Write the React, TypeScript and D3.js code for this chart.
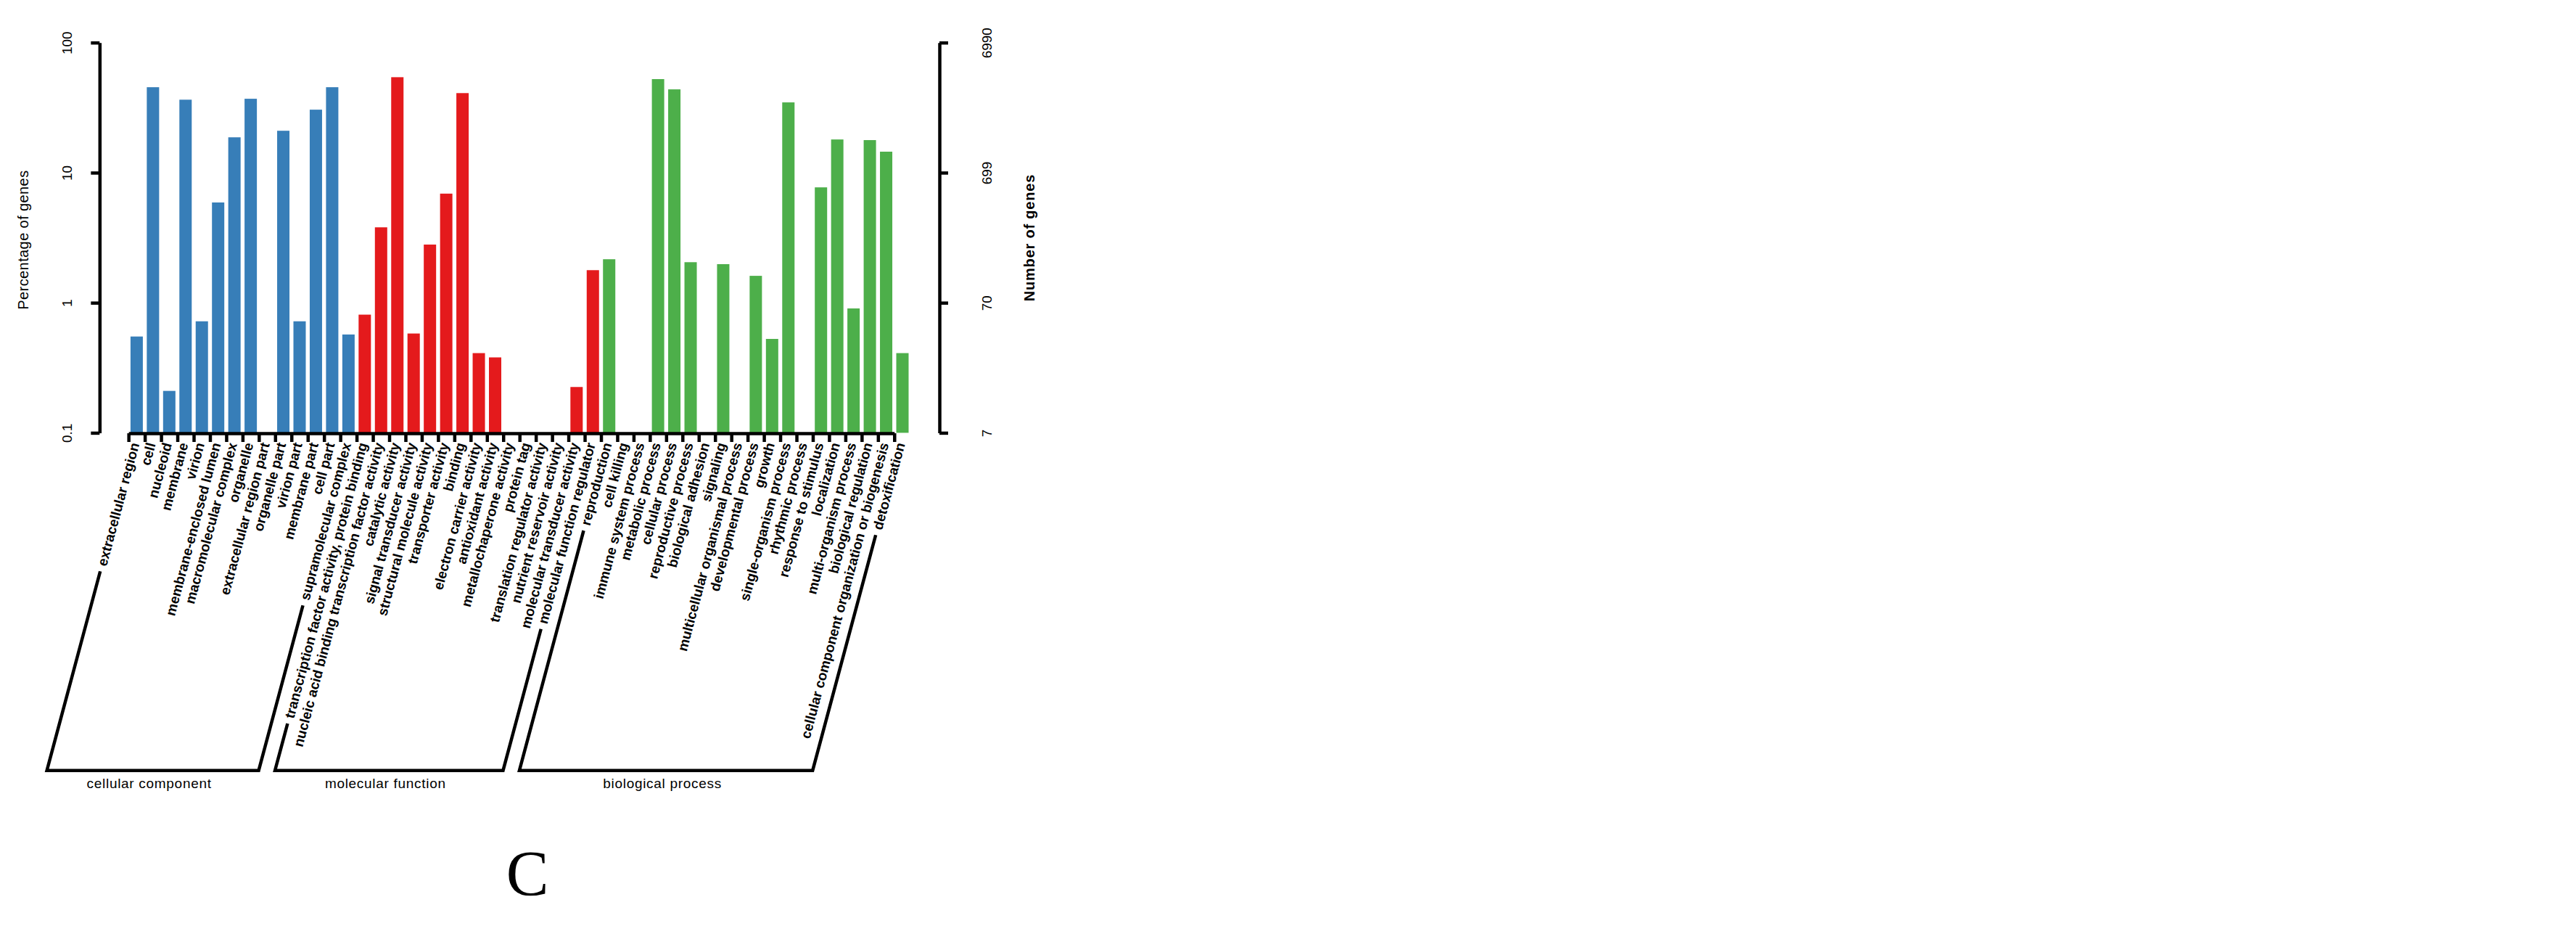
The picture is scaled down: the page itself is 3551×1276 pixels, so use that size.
import { useEffect, useRef } from "react";
import * as d3 from "d3";

const W = 3551;
const H = 1276;

// GO level-2 terms, grouped by ontology
const ccTerms = [
  "extracellular region", "cell", "nucleoid", "membrane", "virion",
  "membrane-enclosed lumen", "macromolecular complex", "organelle",
  "extracellular region part", "organelle part", "virion part",
  "membrane part", "cell part", "supramolecular complex",
];
const ccPercent: (number | null)[] = [
  0.55, 45.4, 0.21, 36.4, 0.72, 5.9, 18.7, 37.0, null, 21.0, 0.72, 30.5, 45.4, 0.57,
];

const mfTerms = [
  "transcription factor activity, protein binding",
  "nucleic acid binding transcription factor activity",
  "catalytic activity", "signal transducer activity",
  "structural molecule activity", "transporter activity", "binding",
  "electron carrier activity", "antioxidant activity",
  "metallochaperone activity", "protein tag",
  "translation regulator activity", "nutrient reservoir activity",
  "molecular transducer activity", "molecular function regulator",
];
const mfPercent: (number | null)[] = [
  0.81, 3.8, 54.2, 0.58, 2.8, 6.9, 40.9, 0.41, 0.38, null, null, null, null, 0.225, 1.78,
];

const bpTerms = [
  "reproduction", "cell killing", "immune system process", "metabolic process",
  "cellular process", "reproductive process", "biological adhesion", "signaling",
  "multicellular organismal process", "developmental process", "growth",
  "single-organism process", "rhythmic process", "response to stimulus",
  "localization", "multi-organism process", "biological regulation",
  "cellular component organization or biogenesis", "detoxification",
];
const bpPercent: (number | null)[] = [
  2.16, null, null, 52.4, 43.7, 2.05, null, 1.98, null, 1.61, 0.527, 34.7, null,
  7.71, 18.0, 0.904, 17.8, 14.5, 0.41,
];

const groupNames = ["cellular component", "molecular function", "biological process"];
const groupColors = ["#377EB8", "#E41A1C", "#4DAF4A"];

const percentTicks = [0.1, 1, 10, 100];
const percentTickLabels = ["0.1", "1", "10", "100"];
const totalGenes = 6990;
const geneTickLabels = ["7", "70", "699", "6990"];

const FONT = '"Liberation Sans", Arial, Helvetica, sans-serif';

const App = (): JSX.Element => {
  const svgRef = useRef<SVGSVGElement | null>(null);

  useEffect(() => {
    if (!svgRef.current) return;
    const svg = d3.select(svgRef.current);
    svg.selectAll("*").remove();

    const groups = [
      { name: groupNames[0], terms: ccTerms, values: ccPercent, color: groupColors[0] },
      { name: groupNames[1], terms: mfTerms, values: mfPercent, color: groupColors[1] },
      { name: groupNames[2], terms: bpTerms, values: bpPercent, color: groupColors[2] },
    ];
    const rows = groups.flatMap((g, gi) =>
      g.terms.map((t, i) => ({ term: t, value: g.values[i], group: gi, color: g.color }))
    );
    const terms = rows.map((r) => r.term);

    const plotTop = 58.7;
    const plotBottom = 596.4;
    const leftX = 137.3;
    const rightX = 1295;

    const x = d3
      .scaleBand<string>()
      .domain(terms)
      .range([179.9, 1252.5])
      .paddingInner(0.243)
      .paddingOuter(0);
    const gap = x.step() - x.bandwidth();
    const tickX = (t: string) => (x(t) || 0) - gap / 2;

    const y = d3.scaleLog().domain([0.1, 100]).range([plotBottom, plotTop]);
    const yGenes = d3
      .scaleLog()
      .domain([totalGenes / 1000, totalGenes])
      .range([plotBottom, plotTop]);

    // bars
    svg
      .append("g")
      .selectAll("rect")
      .data(rows.filter((r) => r.value !== null))
      .join("rect")
      .attr("x", (d) => x(d.term) || 0)
      .attr("width", x.bandwidth())
      .attr("y", (d) => y(d.value as number))
      .attr("height", (d) => y(0.1) - y(d.value as number))
      .attr("fill", (d) => d.color);

    // left axis (percentage)
    const gl = svg
      .append("g")
      .attr("transform", `translate(${leftX},0)`)
      .call(
        d3
          .axisLeft(y)
          .tickValues(percentTicks)
          .tickFormat((_, i) => percentTickLabels[i])
          .tickSize(12)
          .tickSizeOuter(0)
      );
    gl.selectAll("path, line").attr("stroke", "#000").attr("stroke-width", 4.5);
    gl.selectAll("text")
      .attr("transform", "rotate(-90)")
      .attr("x", 0)
      .attr("y", -38)
      .attr("dy", 0)
      .attr("text-anchor", "middle")
      .attr("font-size", 19)
      .attr("font-family", FONT)
      .attr("fill", "#000");

    // right axis (number of genes)
    const gr = svg
      .append("g")
      .attr("transform", `translate(${rightX},0)`)
      .call(
        d3
          .axisRight(yGenes)
          .tickValues([6.99, 69.9, 699, 6990])
          .tickFormat((_, i) => geneTickLabels[i])
          .tickSize(12)
          .tickSizeOuter(0)
      );
    gr.selectAll("path, line").attr("stroke", "#000").attr("stroke-width", 4.5);
    gr.selectAll("text")
      .attr("transform", "rotate(-90)")
      .attr("x", 0)
      .attr("y", 72)
      .attr("dy", 0)
      .attr("text-anchor", "middle")
      .attr("font-size", 19)
      .attr("font-family", FONT)
      .attr("fill", "#000");

    // bottom axis: ticks sit between bars
    const xTicks = d3
      .scalePoint<string>()
      .domain(terms)
      .range([tickX(terms[0]), tickX(terms[terms.length - 1])]);
    const gb = svg
      .append("g")
      .attr("transform", `translate(0,${plotBottom + 0.6})`)
      .call(d3.axisBottom(xTicks).tickSize(12).tickSizeOuter(0).tickFormat(() => ""));
    gb.selectAll("path, line").attr("stroke", "#000").attr("stroke-width", 4.5);

    // axis titles
    svg
      .append("text")
      .attr("transform", `translate(38.8,${(plotTop + plotBottom) / 2 + 3}) rotate(-90)`)
      .attr("text-anchor", "middle")
      .attr("font-family", FONT)
      .attr("font-size", 20)
      .attr("letter-spacing", 0.4)
      .text("Percentage of genes");
    svg
      .append("text")
      .attr("transform", `translate(1426,${(plotTop + plotBottom) / 2}) rotate(-90)`)
      .attr("text-anchor", "middle")
      .attr("font-family", FONT)
      .attr("font-weight", "bold")
      .attr("font-size", 20)
      .attr("letter-spacing", 0.8)
      .text("Number of genes");

    // category labels
    const angle = -75;
    const rad = (angle * Math.PI) / 180;
    const u = { x: Math.cos(rad), y: Math.sin(rad) }; // along baseline
    const v = { x: Math.sin(rad), y: -Math.cos(rad) }; // glyph up
    const labelDx = 15;
    const labelY = 612;

    const labels = svg
      .append("g")
      .selectAll("text")
      .data(rows)
      .join("text")
      .attr(
        "transform",
        (d) => `translate(${tickX(d.term) + labelDx},${labelY}) rotate(${angle})`
      )
      .attr("text-anchor", "end")
      .attr("font-family", FONT)
      .attr("font-weight", "bold")
      .attr("font-size", 19)
      .text((d) => d.term);

    const lengths = new Map<string, number>();
    labels.each(function (d) {
      lengths.set(d.term, (this as SVGTextElement).getComputedTextLength());
    });

    // group brackets
    const bracketY = 1061.7;
    const half = 6.8;
    const lineGap = 8;
    const bottomOf = (term: string) => {
      const ax = tickX(term) + labelDx;
      const L = lengths.get(term) || 0;
      const sx = ax - L * u.x;
      const sy = labelY - L * u.y;
      const tx = sx + v.x * half - u.x * lineGap;
      const ty = sy + v.y * half - u.y * lineGap;
      const t = (bracketY - ty) / -u.y;
      return { tx, ty, bx: tx - u.x * t, by: bracketY };
    };

    groups.forEach((g) => {
      const a = bottomOf(g.terms[0]);
      const b = bottomOf(g.terms[g.terms.length - 1]);
      const path = d3.path();
      path.moveTo(a.tx, a.ty);
      path.lineTo(a.bx, a.by);
      path.lineTo(b.bx, b.by);
      path.lineTo(b.tx, b.ty);
      svg
        .append("path")
        .attr("d", path.toString())
        .attr("fill", "none")
        .attr("stroke", "#000")
        .attr("stroke-width", 4.5)
        .attr("stroke-linejoin", "miter");
      svg
        .append("text")
        .attr("x", (a.bx + b.bx) / 2 - 5)
        .attr("y", 1085.6)
        .attr("text-anchor", "middle")
        .attr("font-family", FONT)
        .attr("font-size", 19)
        .attr("letter-spacing", 0.7)
        .text(g.name);
    });

    // panel letter
    svg
      .append("text")
      .attr("x", 727)
      .attr("y", 1233)
      .attr("text-anchor", "middle")
      .attr("font-family", '"Liberation Serif", "Times New Roman", serif')
      .attr("font-size", 88)
      .text("C");
  }, []);

  return (
    <svg
      ref={svgRef}
      width={W}
      height={H}
      viewBox={`0 0 ${W} ${H}`}
      style={{ position: "absolute", left: 0, top: 0, background: "#fff", display: "block" }}
    />
  );
};

export default App;
